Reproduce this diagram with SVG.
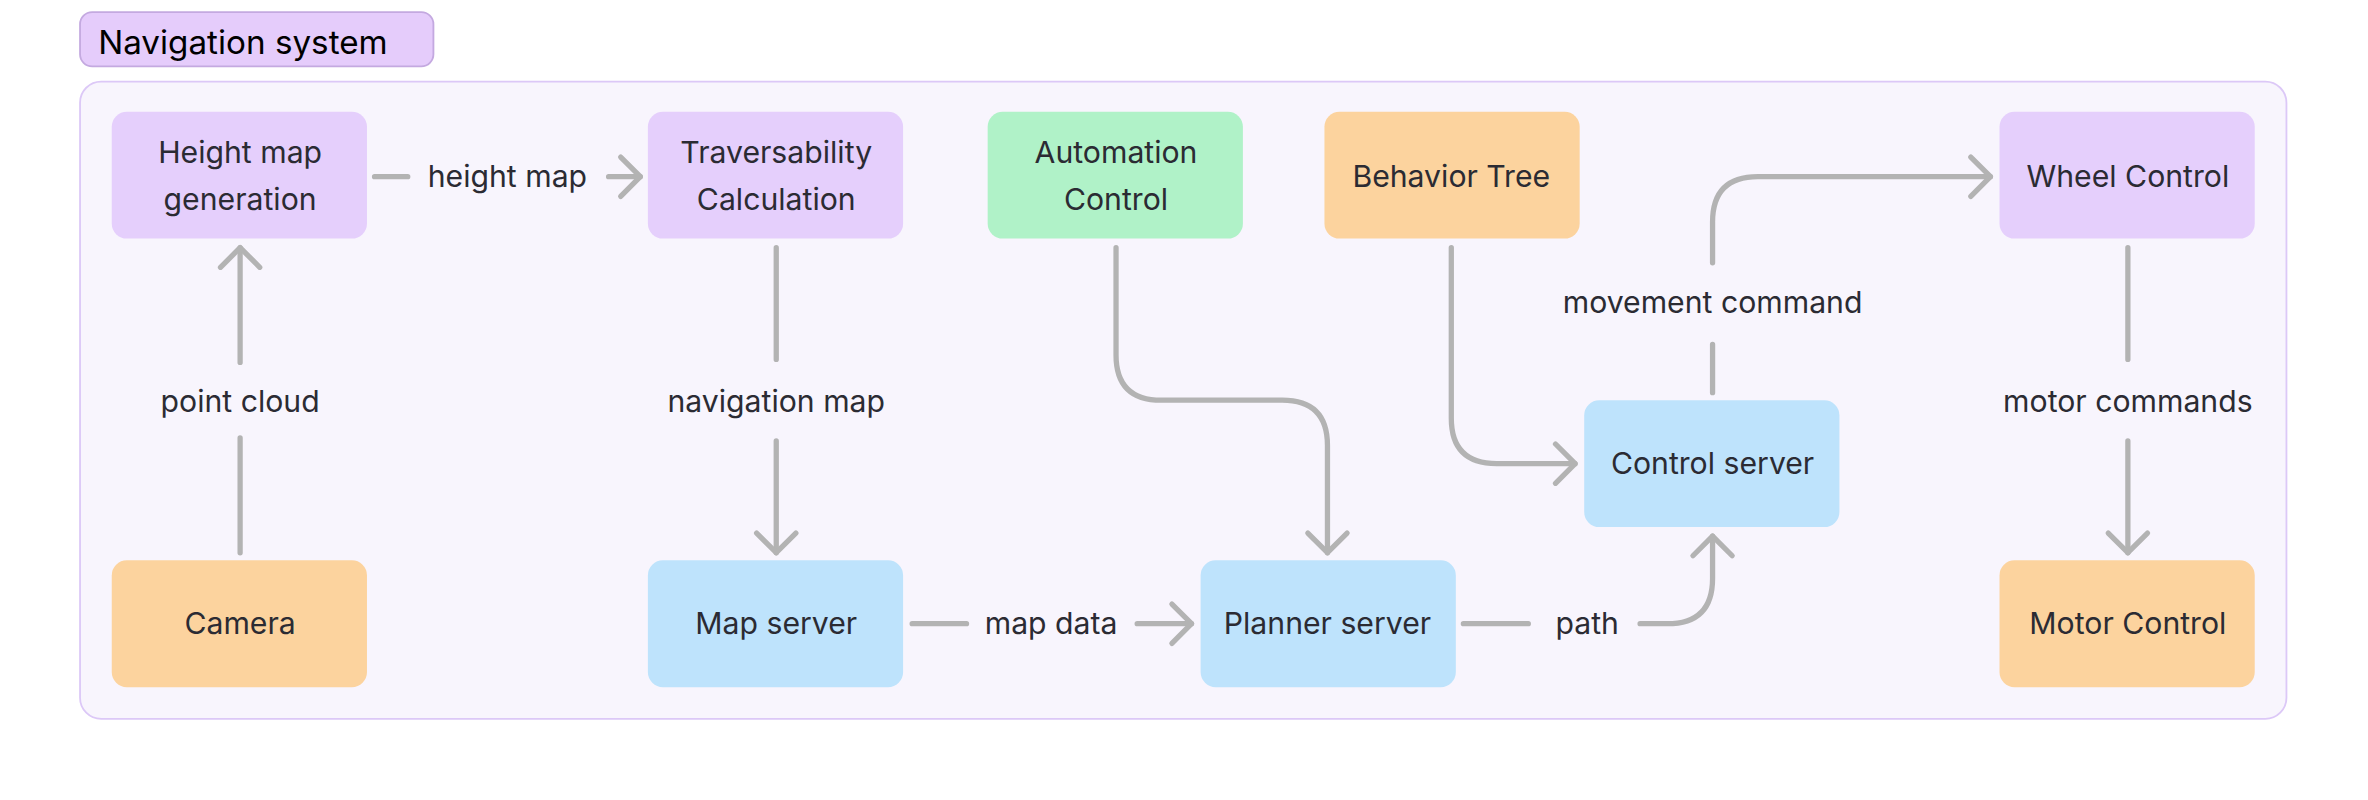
<svg xmlns="http://www.w3.org/2000/svg" width="2368" height="800" viewBox="0 0 2368 800">
<style>
.n{rx:10}
.p{fill:#e5cffc}.g{fill:#b0f2c8}.o{fill:#fcd39e}.b{fill:#bee3fc}
text{font-family:Inter,"Noto Sans",sans-serif;font-size:20px;fill:#2b2b33;text-anchor:middle}
.c path{fill:none;stroke:#b3b3b3;stroke-width:3.5;stroke-linecap:round;stroke-linejoin:round}
</style>
<defs>
<marker id="a" markerUnits="userSpaceOnUse" viewBox="-16 -16 20 32" markerWidth="20" markerHeight="32" refX="0" refY="0" orient="auto">
<path d="M-13,-13 L0,0 L-13,13" fill="none" stroke="#b3b3b3" stroke-width="3.5" stroke-linecap="round" stroke-linejoin="round"/>
</marker>
</defs>
<rect width="2368" height="800" fill="#fff"/>
<g transform="scale(1.5102)">
<g id="title"><rect x="53" y="8" width="234" height="36" rx="8" fill="#e5ccfb" stroke="#c4a9e0" stroke-width="1.2"/>
<text x="65" y="36" style="text-anchor:start;font-size:22px;fill:#000">Navigation system</text></g>
<rect id="container" x="53" y="54" width="1461" height="422" rx="14" fill="#f8f5fd" stroke="#dcc8f7" stroke-width="1.2"/>
<g class="c" id="connectors">
<path d="M159,366 V290 M159,240 V164" marker-end="url(#a)"/>
<path d="M248,117 H270 M403,117 H424" marker-end="url(#a)"/>
<path d="M514,164 V238 M514,292 V366" marker-end="url(#a)"/>
<path d="M604,413 H640 M753,413 H789" marker-end="url(#a)"/>
<path d="M739,164 V235 Q739,265 769,265 H849 Q879,265 879,295 V366" marker-end="url(#a)"/>
<path d="M961,164 V277 Q961,307 991,307 H1043" marker-end="url(#a)"/>
<path d="M969,413 H1012 M1086,413 H1104 Q1134,413 1134,383 V355" marker-end="url(#a)"/>
<path d="M1134,260 V228 M1134,174 V147 Q1134,117 1164,117 H1318" marker-end="url(#a)"/>
<path d="M1409,164 V238 M1409,292 V366" marker-end="url(#a)"/>
<text x="159" y="273">point cloud</text>
<text x="336" y="124">height map</text>
<text x="514" y="273">navigation map</text>
<text x="696" y="420">map data</text>
<text x="1051" y="420">path</text>
<text x="1134" y="207">movement command</text>
<text x="1409" y="273">motor commands</text>
</g>
<g id="hmg"><rect class="n p" x="74" y="74" width="169" height="84"/><text x="159" y="108">Height map</text><text x="159" y="139">generation</text></g>
<g id="trav"><rect class="n p" x="429" y="74" width="169" height="84"/><text x="514" y="108">Traversability</text><text x="514" y="139">Calculation</text></g>
<g id="auto"><rect class="n g" x="654" y="74" width="169" height="84"/><text x="739" y="108">Automation</text><text x="739" y="139">Control</text></g>
<g id="bt"><rect class="n o" x="877" y="74" width="169" height="84"/><text x="961" y="124">Behavior Tree</text></g>
<g id="wheel"><rect class="n p" x="1324" y="74" width="169" height="84"/><text x="1409" y="124">Wheel Control</text></g>
<g id="camera"><rect class="n o" x="74" y="371" width="169" height="84"/><text x="159" y="420">Camera</text></g>
<g id="map"><rect class="n b" x="429" y="371" width="169" height="84"/><text x="514" y="420">Map server</text></g>
<g id="planner"><rect class="n b" x="795" y="371" width="169" height="84"/><text x="879" y="420">Planner server</text></g>
<g id="control"><rect class="n b" x="1049" y="265" width="169" height="84"/><text x="1134" y="314">Control server</text></g>
<g id="motor"><rect class="n o" x="1324" y="371" width="169" height="84"/><text x="1409" y="420">Motor Control</text></g>
</g>
</svg>
